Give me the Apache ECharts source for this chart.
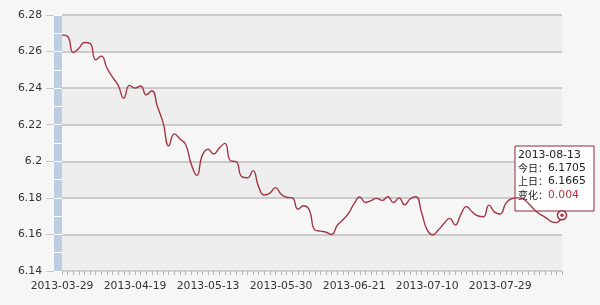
<!DOCTYPE html>
<html>
<head>
<meta charset="utf-8">
<script src="https://cdn.jsdelivr.net/npm/echarts@6/dist/echarts.min.js"></script>
<style>
html,body{margin:0;padding:0;background:#f6f6f6;}
#chart{width:600px;height:305px;}
</style>
</head>
<body>
<div id="chart"></div>
<script>
const categories = [
 '2013-03-29',
 '2013-04-01','2013-04-02','2013-04-03','2013-04-08','2013-04-09','2013-04-10','2013-04-11','2013-04-12',
 '2013-04-15','2013-04-16','2013-04-17','2013-04-18','2013-04-19','2013-04-22','2013-04-23','2013-04-24',
 '2013-04-25','2013-04-26',
 '2013-05-02','2013-05-03','2013-05-06','2013-05-07','2013-05-08','2013-05-09','2013-05-10',
 '2013-05-13','2013-05-14','2013-05-15','2013-05-16','2013-05-17','2013-05-20','2013-05-21','2013-05-22',
 '2013-05-23','2013-05-24','2013-05-27','2013-05-28','2013-05-29','2013-05-30','2013-05-31',
 '2013-06-03','2013-06-04','2013-06-05','2013-06-06','2013-06-07','2013-06-13','2013-06-14',
 '2013-06-17','2013-06-18','2013-06-19','2013-06-20','2013-06-21','2013-06-24','2013-06-25','2013-06-26',
 '2013-06-27','2013-06-28',
 '2013-07-01','2013-07-02','2013-07-03','2013-07-04','2013-07-05','2013-07-08','2013-07-09','2013-07-10',
 '2013-07-11','2013-07-12','2013-07-15','2013-07-16','2013-07-17','2013-07-18','2013-07-19','2013-07-22',
 '2013-07-23','2013-07-24','2013-07-25','2013-07-26','2013-07-29','2013-07-30','2013-07-31',
 '2013-08-01','2013-08-02','2013-08-05','2013-08-06','2013-08-07','2013-08-08','2013-08-09','2013-08-12',
 '2013-08-13'
];
const rates = [
 6.2690,6.2683,6.2595,6.2618,6.2650,6.2645,6.2555,6.2575,6.2510,6.2460,
 6.2415,6.2345,6.2415,6.2400,6.2412,6.2363,6.2386,6.2298,6.2210,6.2085,
 6.2150,6.2122,6.2092,6.1985,6.1923,6.2035,6.2066,6.2040,6.2072,6.2098,
 6.2003,6.1998,6.1916,6.1910,6.1949,6.1860,6.1816,6.1826,6.1856,6.1820,
 6.1803,6.1800,6.1738,6.1757,6.1735,6.1625,6.1618,6.1612,6.1600,6.1650,
 6.1680,6.1715,6.1768,6.1805,6.1775,6.1785,6.1797,6.1786,6.1806,6.1774,
 6.1800,6.1762,6.1795,6.1806,6.1720,6.1625,6.1598,6.1625,6.1660,6.1688,
 6.1652,6.1710,6.1752,6.1724,6.1702,6.1697,6.1760,6.1722,6.1712,6.1770,
 6.1795,6.1800,6.1795,6.1770,6.1738,6.1712,6.1695,6.1672,6.1665,6.1705
];
const yTicks = [6.14, 6.16, 6.18, 6.2, 6.22, 6.24, 6.26, 6.28];
const tipLabels = ['今日：', '上日：', '变化：'];

const FONT = 'DejaVu Sans, Verdana, sans-serif';
const lastIdx = rates.length - 1;
const lastVal = rates[lastIdx];
const prevVal = rates[lastIdx - 1];
const change = (lastVal - prevVal).toFixed(3);

const chart = echarts.init(document.getElementById('chart'), null, {renderer: 'canvas'});
const yBase = {
  type: 'value', position: 'left',
  min: yTicks[0], max: yTicks[yTicks.length - 1], interval: 0.02
};
chart.setOption({
  animation: false,
  backgroundColor: '#f6f6f6',
  grid: {left: 62, right: 38, top: 15, bottom: 34},
  xAxis: {
    type: 'category', data: categories, boundaryGap: false,
    axisLine: {show: true, lineStyle: {color: '#d6d6d6', width: 1}},
    axisTick: {show: true, interval: 0, length: 4, lineStyle: {color: '#b4b4b4'}},
    axisLabel: {interval: 12, color: '#333', fontFamily: FONT, fontSize: 10.8, margin: 10},
    splitLine: {show: false}
  },
  yAxis: [
    Object.assign({}, yBase, {
      offset: 4, z: 0,
      axisLine: {show: true, lineStyle: {color: '#bccfe2', width: 8, cap: 'butt'}},
      axisTick: {show: true, length: 12, lineStyle: {color: '#c8c8c8'}},
      axisLabel: {color: '#333', fontFamily: FONT, fontSize: 10.8, margin: 16,
        formatter: v => { const t = yTicks.find(x => Math.abs(x - v) < 1e-6); return t === undefined ? '' : String(t); }},
      splitLine: {show: true, lineStyle: {color: '#bdbdbd', width: 1.5}},
      splitArea: {show: true, areaStyle: {color: ['#eeeeee', '#f6f6f6']}}
    }),
    Object.assign({}, yBase, {
      offset: 8, z: 1,
      axisLine: {show: false},
      axisTick: {show: true, inside: true, length: 8, lineStyle: {color: '#ffffff'}},
      minorTick: {show: true, splitNumber: 2, length: 8, lineStyle: {color: '#ffffff'}},
      axisLabel: {show: false},
      splitLine: {show: false},
      splitArea: {show: false}
    })
  ],
  series: [{
    type: 'line', data: rates, yAxisIndex: 0,
    smooth: 0.5, showSymbol: false,
    lineStyle: {color: '#a23844', width: 1.4},
    markPoint: {
      silent: true,
      label: {show: false},
      data: [
        {coord: [lastIdx, lastVal], symbol: 'circle', symbolSize: 9,
         itemStyle: {color: '#ffffff', borderColor: '#9b2d3a', borderWidth: 1.5}},
        {coord: [lastIdx, lastVal], symbol: 'circle', symbolSize: 3.5,
         itemStyle: {color: '#c0303f'}}
      ]
    }
  }]
});

const p = chart.convertToPixel({seriesIndex: 0}, [lastIdx, lastVal]);
const bx = Math.round(p[0] - 48.5) + 0.5, by = Math.round(p[1] - 70) + 0.5;
chart.setOption({
  graphic: [{
    type: 'group', left: bx, top: by, z: 100,
    children: [
      {type: 'rect', shape: {x: 0, y: 0, width: 79, height: 65},
       style: {fill: '#ffffff', stroke: '#8e2c3a', lineWidth: 1}},
      {type: 'text', x: 3, y: 2,
       style: {
         text: categories[lastIdx] + '\n' +
               '{l|' + tipLabels[0] + '}' + lastVal.toFixed(4) + '\n' +
               '{l|' + tipLabels[1] + '}' + prevVal.toFixed(4) + '\n' +
               '{l|' + tipLabels[2] + '}{r|' + change + '}',
         fontFamily: FONT, fontSize: 10.8, fill: '#222', lineHeight: 13.4,
         rich: {
           l: {fontFamily: '"Noto Sans CJK SC", sans-serif', fontSize: 10, fill: '#222', lineHeight: 13.4},
           r: {fontFamily: FONT, fontSize: 10.8, fill: '#b8323f', lineHeight: 13.4}
         }
       }}
    ]
  }]
});
</script>
</body>
</html>
